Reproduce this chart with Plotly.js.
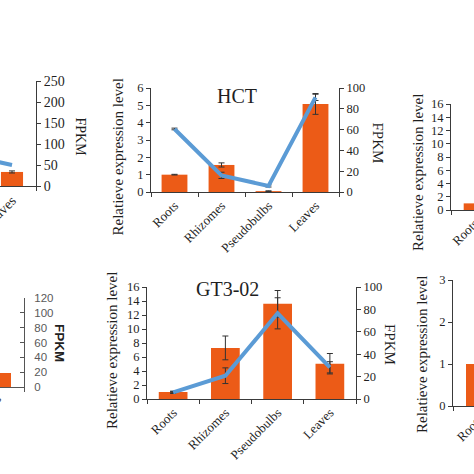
<!DOCTYPE html>
<html>
<head>
<meta charset="utf-8">
<script src="https://cdn.plot.ly/plotly-3.0.1.min.js"></script>
<style>
  html, body { margin:0; padding:0; width:474px; height:474px; overflow:hidden; background:#fff; }
  #chart { position:absolute; left:-300px; top:0; width:1024px; height:474px; }
</style>
</head>
<body>
<div id="chart"></div>
<script>
// ---- data ----
const categories = ['Roots', 'Rhizomes', 'Pseudobulbs', 'Leaves'];

// HCT (top middle)
const hctRel     = [1.0, 1.56, 0.05, 5.08];
const hctRelErr  = [0.02, 0.12, 0.02, 0.6];
const hctFpkm    = [60.6, 16, 5.8, 91];
const hctFpkmErr = [0.8, 3, 1, 3];

// GT3-02 (bottom middle)
const gtRel     = [1.0, 7.3, 13.6, 5.04];
const gtRelErr  = [0.1, 1.7, 1.9, 1.46];
const gtFpkm    = [5.9, 20.8, 76.5, 28.3];
const gtFpkmErr = [1.0, 7.0, 13.9, 5.0];

// partially visible panels (only the visible values; null = outside the crop)
const tlRel     = [null, null, null, 1.07];
const tlRelErr  = [0, 0, 0, 0.08];
const tlFpkm    = [null, null, 75, 50];
const trRel     = [1.0, null, null, null];
const blRel     = [null, null, null, 1.1];
const blFpkm    = [null, null, null, null];
const brRel     = [1.0, null, null, null];

// tick settings
const fpkmTicksTL = 50, fpkmTicksBL = 20, fpkmTicks = 20;

// ---- styling ----
const ORANGE = '#EC5B17';
const BLUE = '#5B9BD5';
const SERIF = 'Liberation Serif';
const SANS = 'Liberation Sans';
const TXT = '#1f1f1f';
const AX = '#3a3a3a';
const W = 1024, H = 474, OFF = 300;
const px = x => (x + OFF) / W;
const py = y => 1 - y / H;

function bar(x, y, err, xa, ya, width) {
  const t = { type:'bar', x:x, y:y, xaxis:xa, yaxis:ya, width:width,
    marker:{ color:ORANGE, line:{width:0} }, hoverinfo:'skip', showlegend:false };
  if (err) t.error_y = { type:'data', array:err, visible:true, color:'#333', thickness:1, width:3 };
  return t;
}
function line(x, y, err, xa, ya) {
  const t = { type:'scatter', mode:'lines', x:x, y:y, xaxis:xa, yaxis:ya,
    line:{ color:BLUE, width:4 }, hoverinfo:'skip', showlegend:false, connectgaps:false };
  if (err) t.error_y = { type:'data', array:err, visible:true, color:'#333', thickness:1, width:3 };
  return t;
}

const traces = [
  bar(categories, tlRel, tlRelErr, 'x', 'y', 0.46),
  line(categories, tlFpkm, null, 'x', 'y2'),
  bar(categories, hctRel, hctRelErr, 'x2', 'y3', 0.55),
  line(categories, hctFpkm, hctFpkmErr, 'x2', 'y4'),
  bar(categories, trRel, null, 'x3', 'y5', 0.46),
  bar(categories, blRel, null, 'x4', 'y6', 0.5),
  line(categories, blFpkm, null, 'x4', 'y7'),
  bar(categories, gtRel, gtRelErr, 'x5', 'y8', 0.55),
  line(categories, gtFpkm, gtFpkmErr, 'x5', 'y9'),
  bar(categories, brRel, null, 'x6', 'y10', 0.5)
];

function xax(x0, x1, anchor, fontFam, fontSize, color) {
  return { domain:[px(x0), px(x1)], anchor:anchor, type:'category',
    range:[-0.5, 3.5], showline:true, linecolor:color || AX, linewidth:1,
    ticks:'outside', tickson:'boundaries', ticklen:4, tickcolor:color || AX,
    tickangle:-45, showgrid:false, zeroline:false, fixedrange:true,
    tickfont:{ family:fontFam || SERIF, size:fontSize || 13, color:TXT } };
}
function yax(y0, y1, anchor, range, dtick, side, extra) {
  const a = { domain:[py(y1), py(y0)], anchor:anchor, range:range, dtick:dtick,
    side:side || 'left', showline:true, linecolor:AX, linewidth:1,
    ticks:'outside', ticklen:4, tickcolor:AX, showgrid:false, zeroline:false,
    fixedrange:true, tickfont:{ family:SERIF, size:12.5, color:TXT } };
  return Object.assign(a, extra || {});
}

const layout = {
  width:W, height:H, autosize:false,
  font:{ family:SERIF, size:12.5, color:TXT },
  margin:{ l:0, r:0, t:0, b:0, pad:0 },
  paper_bgcolor:'#fff', plot_bgcolor:'rgba(0,0,0,0)',
  barmode:'overlay', showlegend:false,
  // top-left partial
  xaxis: xax(-156, 36, 'y', SERIF, 14),
  yaxis: yax(81, 186, 'x', [0, 8], 1, 'left', { visible:false }),
  yaxis2: yax(81, 186, 'x', [0, 250], fpkmTicksTL, 'right', { overlaying:'y',
    tickfont:{ family:SERIF, size:14, color:TXT } }),
  // HCT
  xaxis2: xax(151, 339, 'y3'),
  yaxis3: yax(88, 192, 'x2', [0, 6], 1, 'left'),
  yaxis4: yax(88, 192, 'x2', [0, 100], fpkmTicks, 'right', { overlaying:'y3' }),
  // top-right partial
  xaxis3: xax(451, 639, 'y5'),
  yaxis5: yax(104, 210, 'x3', [0, 16], 2, 'left'),
  // bottom-left partial (sans style)
  xaxis4: xax(-184, 24, 'y6', SANS, 11, '#555'),
  yaxis6: yax(298, 387, 'x4', [0, 7], 1, 'left', { visible:false }),
  yaxis7: yax(298, 387, 'x4', [0, 120], fpkmTicksBL, 'right', { overlaying:'y6',
    ticks:'inside', linecolor:'#555', tickcolor:'#555', ticklabelstandoff:7,
    tickfont:{ family:SANS, size:11.5, color:'#595959' } }),
  // GT3-02
  xaxis5: xax(147, 356, 'y8'),
  yaxis8: yax(287, 399, 'x5', [0, 16], 2, 'left'),
  yaxis9: yax(287, 399, 'x5', [0, 100], fpkmTicks, 'right', { overlaying:'y8' }),
  // bottom-right partial
  xaxis6: xax(453, 661, 'y10'),
  yaxis10: yax(280, 406, 'x6', [0, 3], 1, 'left'),
  annotations: []
};

function ann(text, x, y, angle, size, fam, color) {
  layout.annotations.push({ text:text, xref:'paper', yref:'paper', x:px(x), y:py(y),
    xanchor:'center', yanchor:'middle', showarrow:false, textangle:angle,
    font:{ family:fam || SERIF, size:size, color:color || TXT } });
}
const yTitle = 'Relatieve expression level';
ann('HCT', 237, 96, 0, 20);
ann('GT3-02', 227, 289, 0, 20);
ann(yTitle, 117, 157.5, -90, 15);
ann(yTitle, 418, 173, -90, 15);
ann(yTitle, 112, 351, -90, 15);
ann(yTitle, 422, 355, -90, 15);
ann('FPKM', 80, 136.5, 90, 14);
ann('FPKM', 378, 142.5, 90, 15);
ann('FPKM', 390, 344, 90, 15);
ann('<b>FPKM</b>', 60, 343, 90, 13.5, SANS, '#222');

Plotly.newPlot('chart', traces, layout, { staticPlot:true, displayModeBar:false });
</script>
</body>
</html>
